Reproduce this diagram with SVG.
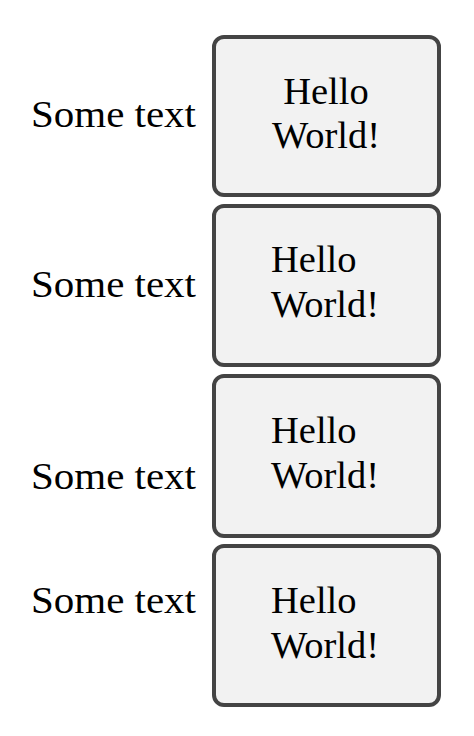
<svg xmlns="http://www.w3.org/2000/svg" width="474" height="736" viewBox="0 0 474 736">
<style>
.box{fill:#f2f2f2;stroke:#444;stroke-width:4}
text{font-family:"Liberation Serif","Times New Roman",serif;font-size:38.5px;fill:#000}
.mid{text-anchor:middle}
</style>
<rect width="474" height="736" fill="#fff"/>
<g id="label1"><text x="31" y="127" textLength="165" lengthAdjust="spacingAndGlyphs">Some text</text></g>
<g id="node1"><rect class="box" x="214" y="37" width="225" height="158" rx="10"/><text class="mid" x="326" y="104">Hello</text><text class="mid" x="326" y="148">World!</text></g>
<g id="label2"><text x="31" y="297" textLength="165" lengthAdjust="spacingAndGlyphs">Some text</text></g>
<g id="node2"><rect class="box" x="214" y="206" width="225" height="159" rx="10"/><text x="271" y="272">Hello</text><text x="271" y="317">World!</text></g>
<g id="label3"><text x="31" y="489" textLength="165" lengthAdjust="spacingAndGlyphs">Some text</text></g>
<g id="node3"><rect class="box" x="214" y="376" width="225" height="160" rx="10"/><text x="271" y="443">Hello</text><text x="271" y="488">World!</text></g>
<g id="label4"><text x="31" y="613" textLength="165" lengthAdjust="spacingAndGlyphs">Some text</text></g>
<g id="node4"><rect class="box" x="214" y="546" width="225" height="159" rx="10"/><text x="271" y="613">Hello</text><text x="271" y="658">World!</text></g>
<g id="connectors"></g>
</svg>
